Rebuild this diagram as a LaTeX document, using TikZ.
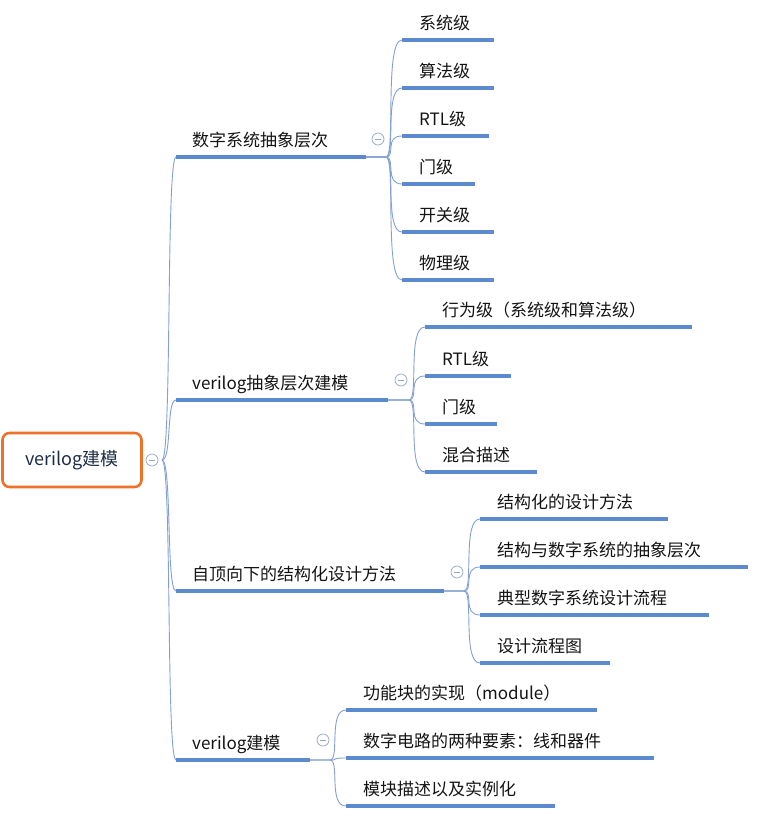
\documentclass[tikz,border=0pt]{standalone}
\usepackage{fontspec}
\setmainfont{Noto Sans CJK SC}
\begin{document}
\begin{tikzpicture}[x=1pt,y=-1pt,
  ul/.style={draw=blue!45!cyan!50!black!60!white, line width=3.5pt},
  ulc/.style={draw={rgb,255:red,91;green,139;blue,206}, line width=3.5pt},
  con/.style={draw={rgb,255:red,130;green,160;blue,210}, line width=0.9pt},
  lbl/.style={anchor=base west, font=\fontsize{17}{19}\selectfont, inner sep=0pt, text={rgb,255:red,20;green,20;blue,20}},
  coll/.style={circle, draw={rgb,255:red,150;green,165;blue,195}, fill=white, line width=0.7pt, minimum size=12pt, inner sep=0pt}]
\useasboundingbox (0,0) rectangle (773,823);
\node[draw={rgb,255:red,237;green,113;blue,39}, line width=2.6pt, rounded corners=7pt, minimum width=139pt, minimum height=54pt, font=\fontsize{18}{20}\selectfont, text={rgb,255:red,30;green,45;blue,70}] (root) at (72,460) {verilog建模};
\coordinate (rc) at (162,460);
% group definitions
\newcommand\grp[9]{}%
% level 1
\foreach \n/\xs/\xe/\y/\t/\cx/\cy in {
  a/176/366/157/数字系统抽象层次/378/139,
  b/176/388/400/verilog抽象层次建模/401/380,
  c/176/444/591/自顶向下的结构化设计方法/457/572,
  d/176/310/760/verilog建模/323/740}{
  \coordinate (\n s) at (\xs,\y);
  \coordinate (\n e) at (\xe,\y);
  \draw[con] (rc) .. controls (172,460) and (166,\y) .. (\n s);
  \draw[ulc] (\n s) -- (\n e);
  \node[lbl] (\n t) at (\xs+16,\y-11) {\t};
}
% children
\foreach \n/\hx/\xs/\y/\xe/\t in {
  a/386/402/40/494/系统级, a/386/402/88/494/算法级, a/386/402/136/489/RTL级,
  a/386/402/184/475/门级, a/386/402/232/494/开关级, a/386/402/280/494/物理级,
  b/409/425/327/692/行为级（系统级和算法级）, b/409/425/376/511/RTL级,
  b/409/425/424/497/门级, b/409/425/472/537/混合描述,
  c/464/480/519/668/结构化的设计方法, c/464/480/567/748/结构与数字系统的抽象层次,
  c/464/480/615/709/典型数字系统设计流程, c/464/480/663/610/设计流程图,
  d/330/346/710/597/功能块的实现（module）, d/330/346/758/654/数字电路的两种要素：线和器件,
  d/330/346/806/555/模块描述以及实例化}{
  \coordinate (h) at (\hx, 0);
  \draw[con] (\n e) -- (\hx,0 |- \n e) .. controls (\hx+10,0 |- \n e) and (\hx-2,\y) .. (\xs,\y) coordinate (cs);
  \draw[ulc] (cs) -- (\xe,\y);
  \node[lbl] at (\xs+17,\y-11) {\t};
}
\foreach \n/\cx/\cy in {a/378/139, b/401/380, c/457/572, d/323/740}{
  \node[coll] (k\n) at (\cx,\cy) {};
  \draw[draw={rgb,255:red,150;green,165;blue,195}, line width=0.8pt] ([xshift=-3pt]k\n.center) -- ([xshift=3pt]k\n.center);
}
\node[coll] (kr) at (152,460) {};
\draw[draw={rgb,255:red,150;green,165;blue,195}, line width=0.8pt] ([xshift=-3pt]kr.center) -- ([xshift=3pt]kr.center);
\end{tikzpicture}
\end{document}
